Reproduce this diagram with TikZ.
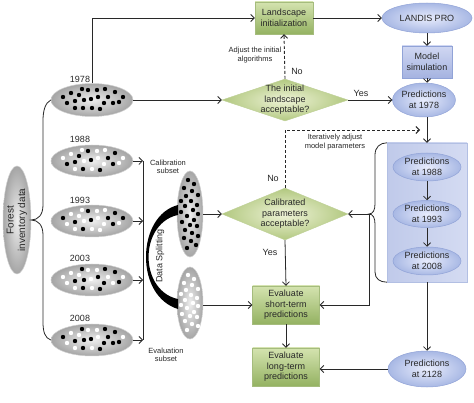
\documentclass[tikz,border=0pt]{standalone}
\usepackage{fontspec}
\setmainfont{Liberation Sans}
\usetikzlibrary{shapes.geometric,arrows.meta}
\definecolor{gtop}{RGB}{212,227,175}
\definecolor{gbot}{RGB}{148,178,98}
\definecolor{gedge}{RGB}{165,188,125}
\definecolor{din}{RGB}{238,243,215}
\definecolor{dout}{RGB}{178,200,128}
\definecolor{dedge}{RGB}{190,208,150}
\definecolor{bin}{RGB}{232,236,252}
\definecolor{bout}{RGB}{168,184,228}
\definecolor{bedge}{RGB}{145,163,215}
\definecolor{btop}{RGB}{208,215,242}
\definecolor{bbot}{RGB}{165,179,224}
\definecolor{panl}{RGB}{192,202,234}
\definecolor{panr}{RGB}{212,219,242}
\definecolor{grin}{RGB}{238,238,238}
\definecolor{grout}{RGB}{165,165,165}
\definecolor{gredge}{RGB}{208,208,208}
\definecolor{ink}{RGB}{40,40,40}
\newcommand\spotsin[2]{\begin{scope}[shift={(#1)}]\foreach \dx/\dy/\s in {#2}{\fill[\s] (\dx,\dy) circle (2.2);}\end{scope}}
\begin{document}
\begin{tikzpicture}[x=1pt,y=-1pt,
  >={Straight Barb[length=3.5pt,width=7pt]},
  conn/.style={->, line width=0.8pt, draw=ink},
  plain/.style={line width=0.8pt, draw=ink},
  dconn/.style={->, line width=0.9pt, draw=ink, dash pattern=on 3pt off 2pt},
  txt/.style={font=\fontsize{9}{10.5}\selectfont, align=center, text=ink},
  small/.style={font=\fontsize{7.5}{8.5}\selectfont, align=center, text=ink},
  gbox/.style={rectangle, top color=gtop, bottom color=gbot, draw=gedge, line width=0.4pt, inner sep=0pt, minimum width=58pt, minimum height=32pt, txt},
  bbox/.style={rectangle, top color=btop, bottom color=bbot, draw=bedge, line width=0.4pt, inner sep=0pt, txt},
  bell/.style={ellipse, inner color=bin, outer color=bout, draw=bedge, line width=0.5pt, inner sep=0pt, txt},
  gell/.style={ellipse, inner color=grin, outer color=grout, draw=gredge, line width=0.5pt, inner sep=0pt},
  dia/.style={diamond, inner color=din, outer color=dout, draw=dedge, line width=0.4pt, inner sep=0pt},
]
\useasboundingbox (0,0) rectangle (474,403);
\fill[white] (0,0) rectangle (474,403);

% forest inventory
\node[gell, minimum width=28pt, minimum height=108pt] (fid) at (17,220) {};
\node[rotate=90, align=center, font=\fontsize{10}{11.5}\selectfont, text=ink] at (fid) {Forest\\inventory data};

% year ellipses
\node[gell, minimum width=82pt, minimum height=33pt] (e78) at (92,100) {};
\node[gell, minimum width=82pt, minimum height=32pt] (e88) at (92,161) {};
\node[gell, minimum width=82pt, minimum height=32pt] (e93) at (92,221) {};
\node[gell, minimum width=82pt, minimum height=32pt] (e03) at (92,280) {};
\node[gell, minimum width=82pt, minimum height=32pt] (e08) at (92,340) {};
\node[txt] (l78) at (80,79) {1978};
\node[txt] (l88) at (80,139) {1988};
\node[txt] (l93) at (80,200) {1993};
\node[txt] (l03) at (80,258) {2003};
\node[txt] (l08) at (80,318) {2008};

\spotsin{e78}{-10/-11/black,-4/-10/black,5/-10/black,13/-11/black,-21/-7/black,23/-8/black,-29/-3/black,-13/-5/black,6/-3/black,16/-3/black,31/-3/black,-17/1/black,-8/0/black,-1/-1/black,-25/3/black,12/3/black,21/3/black,27/2/black,-17/8/black,-9/8/black,0/8/black,8/9/black}
\spotsin{e88}{-10/-11/white,-4/-10/black,5/-10/white,13/-11/white,-21/-7/white,23/-8/black,-29/-3/white,-13/-5/black,6/-3/white,16/-3/black,31/-3/white,-17/1/black,-8/0/white,-1/-1/black,-25/3/black,12/3/white,21/3/black,27/2/white,-17/8/white,-9/8/black,0/8/white,8/9/black}
\spotsin{e93}{-10/-11/white,-4/-10/black,5/-10/white,13/-11/white,-21/-7/white,23/-8/black,-29/-3/black,-13/-5/white,6/-3/white,16/-3/black,31/-3/black,-17/1/black,-8/0/white,-1/-1/black,-25/3/white,12/3/white,21/3/black,27/2/white,-17/8/white,-9/8/black,0/8/white,8/9/white}
\spotsin{e03}{-10/-11/black,-4/-10/white,5/-10/white,13/-11/black,-21/-7/white,23/-8/black,-29/-3/white,-13/-5/white,6/-3/black,16/-3/white,31/-3/white,-17/1/black,-8/0/black,-1/-1/white,-25/3/white,12/3/black,21/3/white,27/2/black,-17/8/white,-9/8/black,0/8/white,8/9/black}
\spotsin{e08}{-10/-11/black,-4/-10/white,5/-10/white,13/-11/black,-21/-7/white,23/-8/black,-29/-3/black,-13/-5/white,6/-3/white,16/-3/black,31/-3/white,-17/1/black,-8/0/black,-1/-1/black,-25/3/white,12/3/black,21/3/black,27/2/black,-17/8/white,-9/8/black,0/8/white,8/9/black}

% left brace
\draw[plain] (e78.west) .. controls (45,103) and (43,111) .. (43,121) -- (43,205) .. controls (43,215) and (38,220) .. (fid.east)
  .. controls (38,220) and (43,225) .. (43,235) -- (43,322) .. controls (43,332) and (45,338) .. (e08.west);

% collection line
\coordinate (v88) at (143,161);
\coordinate (v93) at (143,221);
\coordinate (v03) at (143,280);
\coordinate (v08) at (143,340);
\draw[plain] (v88) -- (v08);
\draw[conn] (e88.east) -- (v88);
\draw[conn] (e93.east) -- (v93);
\draw[conn] (e03.east) -- (v03);
\draw[conn] (e08.east) -- (v08);
\node[small] (cst) at (168,167) {Calibration\\subset};
\node[small] (est) at (166,355) {Evaluation\\subset};

% calibration / evaluation subsets
\node[gell, minimum width=26pt, minimum height=86pt] (cal) at (190,214) {};
\node[gell, minimum width=26pt, minimum height=72pt] (ev) at (190,303) {};
\spotsin{cal}{-2/-34/black,4/-30/black,-6/-26/black,2/-23/black,8/-19/black,-4/-18/black,-9/-13/black,1/-13/black,7/-9/black,-5/-8/black,3/-4/black,-9/-2/black,8/0/black,-3/2/black,4/6/black,-8/8/black,0/11/black,7/12/black,-5/16/black,2/19/black,8/22/black,-6/24/black,1/27/black,6/31/black,-3/34/black}
\spotsin{ev}{-2/-28/white,4/-24/white,-6/-20/white,2/-18/white,8/-14/white,-4/-13/white,-9/-9/white,1/-8/white,7/-5/white,-5/-3/white,3/0/white,-9/2/white,8/3/white,-3/5/white,4/9/white,-8/11/white,0/13/white,7/14/white,-5/18/white,2/21/white,8/23/white,-3/27/white}

% data splitting crescent
\fill[black] (178,205) .. controls (158,210) and (146,232) .. (146,257)
  .. controls (146,282) and (158,303) .. (178,309)
  -- (178,299) .. controls (162,296) and (148.6,280) .. (148.6,257)
  .. controls (148.6,234) and (162,218) .. (178,215) -- cycle;
\node[rotate=90, font=\fontsize{9}{10}\selectfont, text=ink] (dsp) at (160,256) {Data Splitting};

% top part
\node[gbox] (li) at (284,18) {Landscape\\initialization};
\node[bell, minimum width=90pt, minimum height=30pt] (lp) at (427,18) {LANDIS PRO};
\node[bbox, minimum width=50pt, minimum height=32pt] (ms) at (427,62) {Model\\simulation};
\node[bell, minimum width=62pt, minimum height=34pt] (p78) at (424,100) {Predictions\\at 1978};
\node[dia, minimum width=126pt, minimum height=42pt] (d1) at (285,100) {};
\node[txt] at (d1) {The initial\\landscape\\acceptable?};

\draw[conn] (e78.north) -- (e78.north |- li.west) -- (li.west);
\draw[conn] (li.east) -- (lp.west);
\draw[conn] (lp.south) -- (ms.north);
\draw[conn] (ms.south) -- (ms.south |- p78.north);
\draw[conn] (e78.east) -- (d1.west);
\draw[conn] (d1.east) -- (p78.west);
\node[txt] (yes1) at (361,93) {Yes};
\draw[dconn] (d1.north) -- (li.south);
\node[txt] (no1) at (297,71) {No};
\node[small] (adj) at (255,55) {Adjust the initial\\algorithms};

% panel
\node[rectangle, left color=panl, right color=panr, draw=bedge!70, line width=0.4pt, minimum width=80pt, minimum height=139pt, inner sep=0pt] (panel) at (427,212.5) {};
\node[bell, minimum width=68pt, minimum height=28pt] (p88) at (427,167) {Predictions\\at 1988};
\node[bell, minimum width=68pt, minimum height=27pt] (p93) at (427,214) {Predictions\\at 1993};
\node[bell, minimum width=68pt, minimum height=28pt] (p08) at (427,261) {Predictions\\at 2008};
\draw[conn] (p88.south) -- (p93.north);
\draw[conn] (p93.south) -- (p08.north);
\draw[conn] (ms.south |- p78.south) -- (ms.south |- panel.north);

% right brace
\draw[plain] (panel.north west) .. controls (380,143) and (375,147) .. (375,155) -- (375,204)
  .. controls (375,210) and (373,214) .. (369,214) coordinate (bt)
  .. controls (373,214) and (375,218) .. (375,224) -- (375,272)
  .. controls (375,279) and (380,282) .. (panel.south west);

% calibrated diamond
\node[dia, minimum width=126pt, minimum height=52pt] (d2) at (285,214) {};
\node[txt] at (d2) {Calibrated\\parameters\\acceptable?};
\draw[conn] (cal.east) -- (d2.west);
\draw[conn] (bt) -- (d2.east);
\coordinate (itc) at (285,130);
\coordinate (ite) at (420,130);
\draw[dconn] (d2.north) -- (itc) -- (ite);
\node[small] (itl) at (335,142) {Iteratively adjust\\model parameters};
\node[txt] (no2) at (273,178) {No};

% evaluation boxes
\node[gbox, minimum width=67pt, minimum height=38pt] (st) at (286,305) {Evaluate\\short-term\\predictions};
\node[gbox, minimum width=67pt, minimum height=38pt] (lt) at (286,367) {Evaluate\\long-term\\predictions};
\node[bell, minimum width=78pt, minimum height=36pt] (p28) at (427,369) {Predictions\\at 2128};
\draw[conn] (d2.south) -- (st.north);
\node[txt] (yes2) at (270,252) {Yes};
\draw[conn] (ev.east |- st.west) -- (st.west);
\draw[conn] (bt) -- (bt |- st.east) -- (st.east);
\draw[conn] (st.south) -- (lt.north);
\draw[conn] (panel.south) -- (p28.north);
\draw[conn] (p28.west) -- (p28.west -| lt.east);
\end{tikzpicture}
\end{document}
